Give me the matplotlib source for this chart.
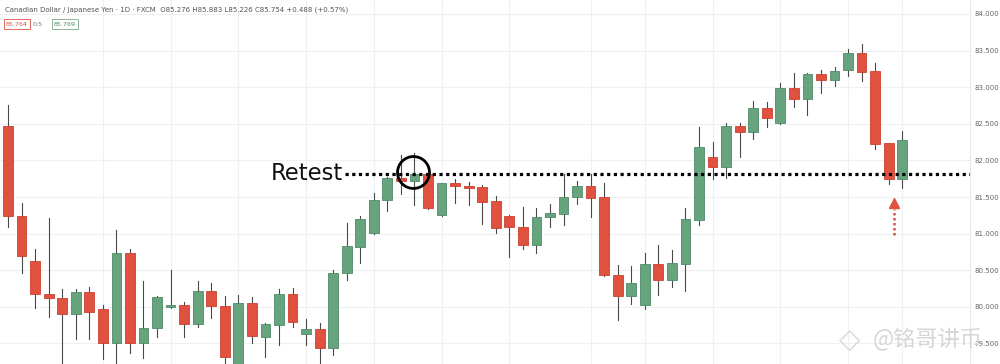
import matplotlib
matplotlib.use("Agg")
import matplotlib.pyplot as plt
from matplotlib.patches import Rectangle
import numpy as np

# ---------------- data (CAD/JPY daily candles) ----------------
opens = [82.47, 81.24, 80.63, 80.18, 80.12, 79.90, 80.20, 79.97, 79.50, 80.74,
         79.50, 79.71, 80.00, 80.03, 79.77, 80.22, 80.01, 79.14, 80.05, 79.59,
         79.75, 80.18, 79.63, 79.70, 79.44, 80.46, 80.82, 81.01, 81.46, 81.76,
         81.72, 81.81, 81.25, 81.69, 81.65, 81.64, 81.45, 81.24, 81.09, 80.84,
         81.23, 81.27, 81.50, 81.65, 81.50, 80.43, 80.15, 80.03, 80.59, 80.37,
         80.59, 81.19, 82.05, 81.91, 82.47, 82.39, 82.72, 82.51, 82.99, 82.84,
         83.18, 83.10, 83.24, 83.47, 83.22, 82.24, 81.75]
closes = [81.24, 80.69, 80.18, 80.12, 79.90, 80.20, 79.93, 79.50, 80.74, 79.50,
          79.71, 80.13, 80.03, 79.77, 80.22, 80.01, 79.31, 80.05, 79.60, 79.77,
          80.18, 79.79, 79.70, 79.44, 80.46, 80.83, 81.20, 81.46, 81.76, 81.72,
          81.81, 81.35, 81.69, 81.65, 81.62, 81.43, 81.08, 81.09, 80.84, 81.23,
          81.28, 81.50, 81.65, 81.49, 80.43, 80.15, 80.33, 80.59, 80.37, 80.60,
          81.20, 82.18, 81.91, 82.47, 82.39, 82.72, 82.58, 82.99, 82.84, 83.18,
          83.10, 83.22, 83.47, 83.21, 82.22, 81.75, 82.28]
highs = [82.76, 81.42, 80.79, 81.21, 80.24, 80.24, 80.27, 80.03, 81.05, 80.79,
         80.35, 80.15, 80.50, 80.07, 80.35, 80.33, 80.15, 80.16, 80.13, 79.78,
         80.24, 80.26, 79.83, 79.78, 80.50, 81.15, 81.24, 81.56, 81.77, 82.07,
         82.10, 81.82, 81.69, 81.75, 81.71, 81.66, 81.51, 81.25, 81.36, 81.35,
         81.40, 81.81, 81.72, 81.81, 81.69, 80.57, 80.56, 80.74, 80.84, 80.78,
         81.35, 82.46, 82.25, 82.51, 82.51, 82.81, 82.80, 83.06, 83.19, 83.19,
         83.24, 83.28, 83.52, 83.59, 83.33, 82.24, 82.40]
lows = [81.09, 80.46, 79.98, 79.86, 79.20, 79.56, 79.56, 79.29, 79.19, 79.37,
        79.30, 79.59, 79.98, 79.59, 79.72, 79.85, 79.14, 79.10, 79.50, 79.31,
        79.48, 79.72, 79.48, 79.23, 79.34, 80.37, 80.60, 81.00, 81.31, 81.54,
        81.39, 81.34, 81.24, 81.42, 81.39, 81.13, 81.01, 80.68, 80.79, 80.74,
        81.09, 81.12, 81.40, 81.23, 80.42, 79.82, 80.04, 79.97, 80.16, 80.27,
        80.22, 81.12, 81.75, 81.76, 82.05, 82.29, 82.46, 82.50, 82.73, 82.62,
        82.92, 83.02, 83.15, 83.09, 82.16, 81.68, 81.62]

price_ticks = [79.5, 80.0, 80.5, 81.0, 81.5, 82.0, 82.5, 83.0, 83.5, 84.0]
week_grid = [7, 12, 17, 22, 27, 32, 37, 43, 47, 52, 57, 62, 66]
retest_level = 81.81
retest_idx = 29.9
arrow_x = 65.4
arrow_from, arrow_to = 80.98, 81.49

title_text = ("Canadian Dollar / Japanese Yen \u00b7 1D \u00b7 FXCM  "
              "O85.276 H85.883 L85.226 C85.754 +0.488 (+0.57%)")
box_left, box_mid, box_right = "85.764", "0.5", "85.769"
watermark = "@铭哥讲币"

# ---------------- figure ----------------
RED, RED_E = "#e0523f", "#c8412f"
GREEN, GREEN_E = "#66a47e", "#4f8a66"
WICK = "#4a4a4a"

fig = plt.figure(figsize=(10, 3.64), dpi=100)
ax = fig.add_axes([0, 0, 0.97, 1])
ax.set_xlim(-0.59, 71.0)
ax.set_ylim(79.219, 84.191)

# grid
for t in price_ticks:
    ax.axhline(t, color="#eef0f4", lw=0.8, zorder=0)
for g in week_grid:
    ax.axvline(g, color="#eef0f4", lw=0.8, zorder=0)

w = 0.72
for i, (o, h, l, c) in enumerate(zip(opens, highs, lows, closes)):
    up = c >= o
    fc, ec = (GREEN, GREEN_E) if up else (RED, RED_E)
    ax.plot([i, i], [l, h], color=WICK, lw=0.8, zorder=2)
    bot, top = min(o, c), max(o, c)
    ht = max(top - bot, 0.012)
    ax.add_patch(Rectangle((i - w / 2, bot), w, ht, facecolor=fc,
                           edgecolor=ec, lw=0.6, zorder=3))

# retest line
ax.plot([24.85, 71.0], [retest_level, retest_level], color="black", lw=2.3,
        linestyle=(0, (1.0, 1.1)), dash_capstyle="butt", zorder=4)
ax.text(24.75, retest_level + 0.01, "Retest", ha="right", va="center",
        fontsize=16.3, color="#111111", zorder=5)
ax.plot([retest_idx], [retest_level + 0.03], marker="o", markersize=23,
        fillstyle="none", markeredgecolor="black", markeredgewidth=2.0, zorder=5)

# red dotted arrow
ax.plot([arrow_x, arrow_x], [arrow_from, arrow_to - 0.15], color="#e0523f",
        lw=1.8, linestyle=(0, (1, 1)), zorder=5)
ax.plot([arrow_x], [arrow_to - 0.07], marker="^", markersize=7,
        color="#e0523f", zorder=5)

# right axis
ax.yaxis.tick_right()
ax.set_yticks(price_ticks)
ax.set_yticklabels([f"{t:.3f}" for t in price_ticks])
ax.tick_params(axis="y", length=0, pad=3, labelsize=5.0, labelcolor="#666666")
ax.set_xticks([])
for s in ["top", "left", "bottom"]:
    ax.spines[s].set_visible(False)
ax.spines["right"].set_color("#e6e8ec")
ax.spines["right"].set_linewidth(0.8)

# header
fig.text(0.005, 0.972, title_text, fontsize=5.0, color="#555555",
         ha="left", va="center")
fig.text(0.006, 0.934, box_left, fontsize=4.6, color="#e0523f", ha="left",
         va="center", bbox=dict(boxstyle="square,pad=0.35", fc="white",
                                ec="#e0523f", lw=0.6))
fig.text(0.033, 0.934, box_mid, fontsize=4.6, color="#777777", ha="left",
         va="center")
fig.text(0.054, 0.934, box_right, fontsize=4.6, color="#4f8a66", ha="left",
         va="center", bbox=dict(boxstyle="square,pad=0.35", fc="white",
                                ec="#7aa88c", lw=0.6))

# watermark
fig.text(0.850, 0.066, "\u25c7", fontsize=20, color="#dadada", ha="center",
         va="center", family=["DejaVu Sans"])
fig.text(0.873, 0.066, watermark, fontsize=16, color="#d6d6d6", ha="left",
         va="center", family=["Noto Sans CJK SC", "DejaVu Sans"])

fig.savefig("out.png", dpi=100, facecolor="white")
